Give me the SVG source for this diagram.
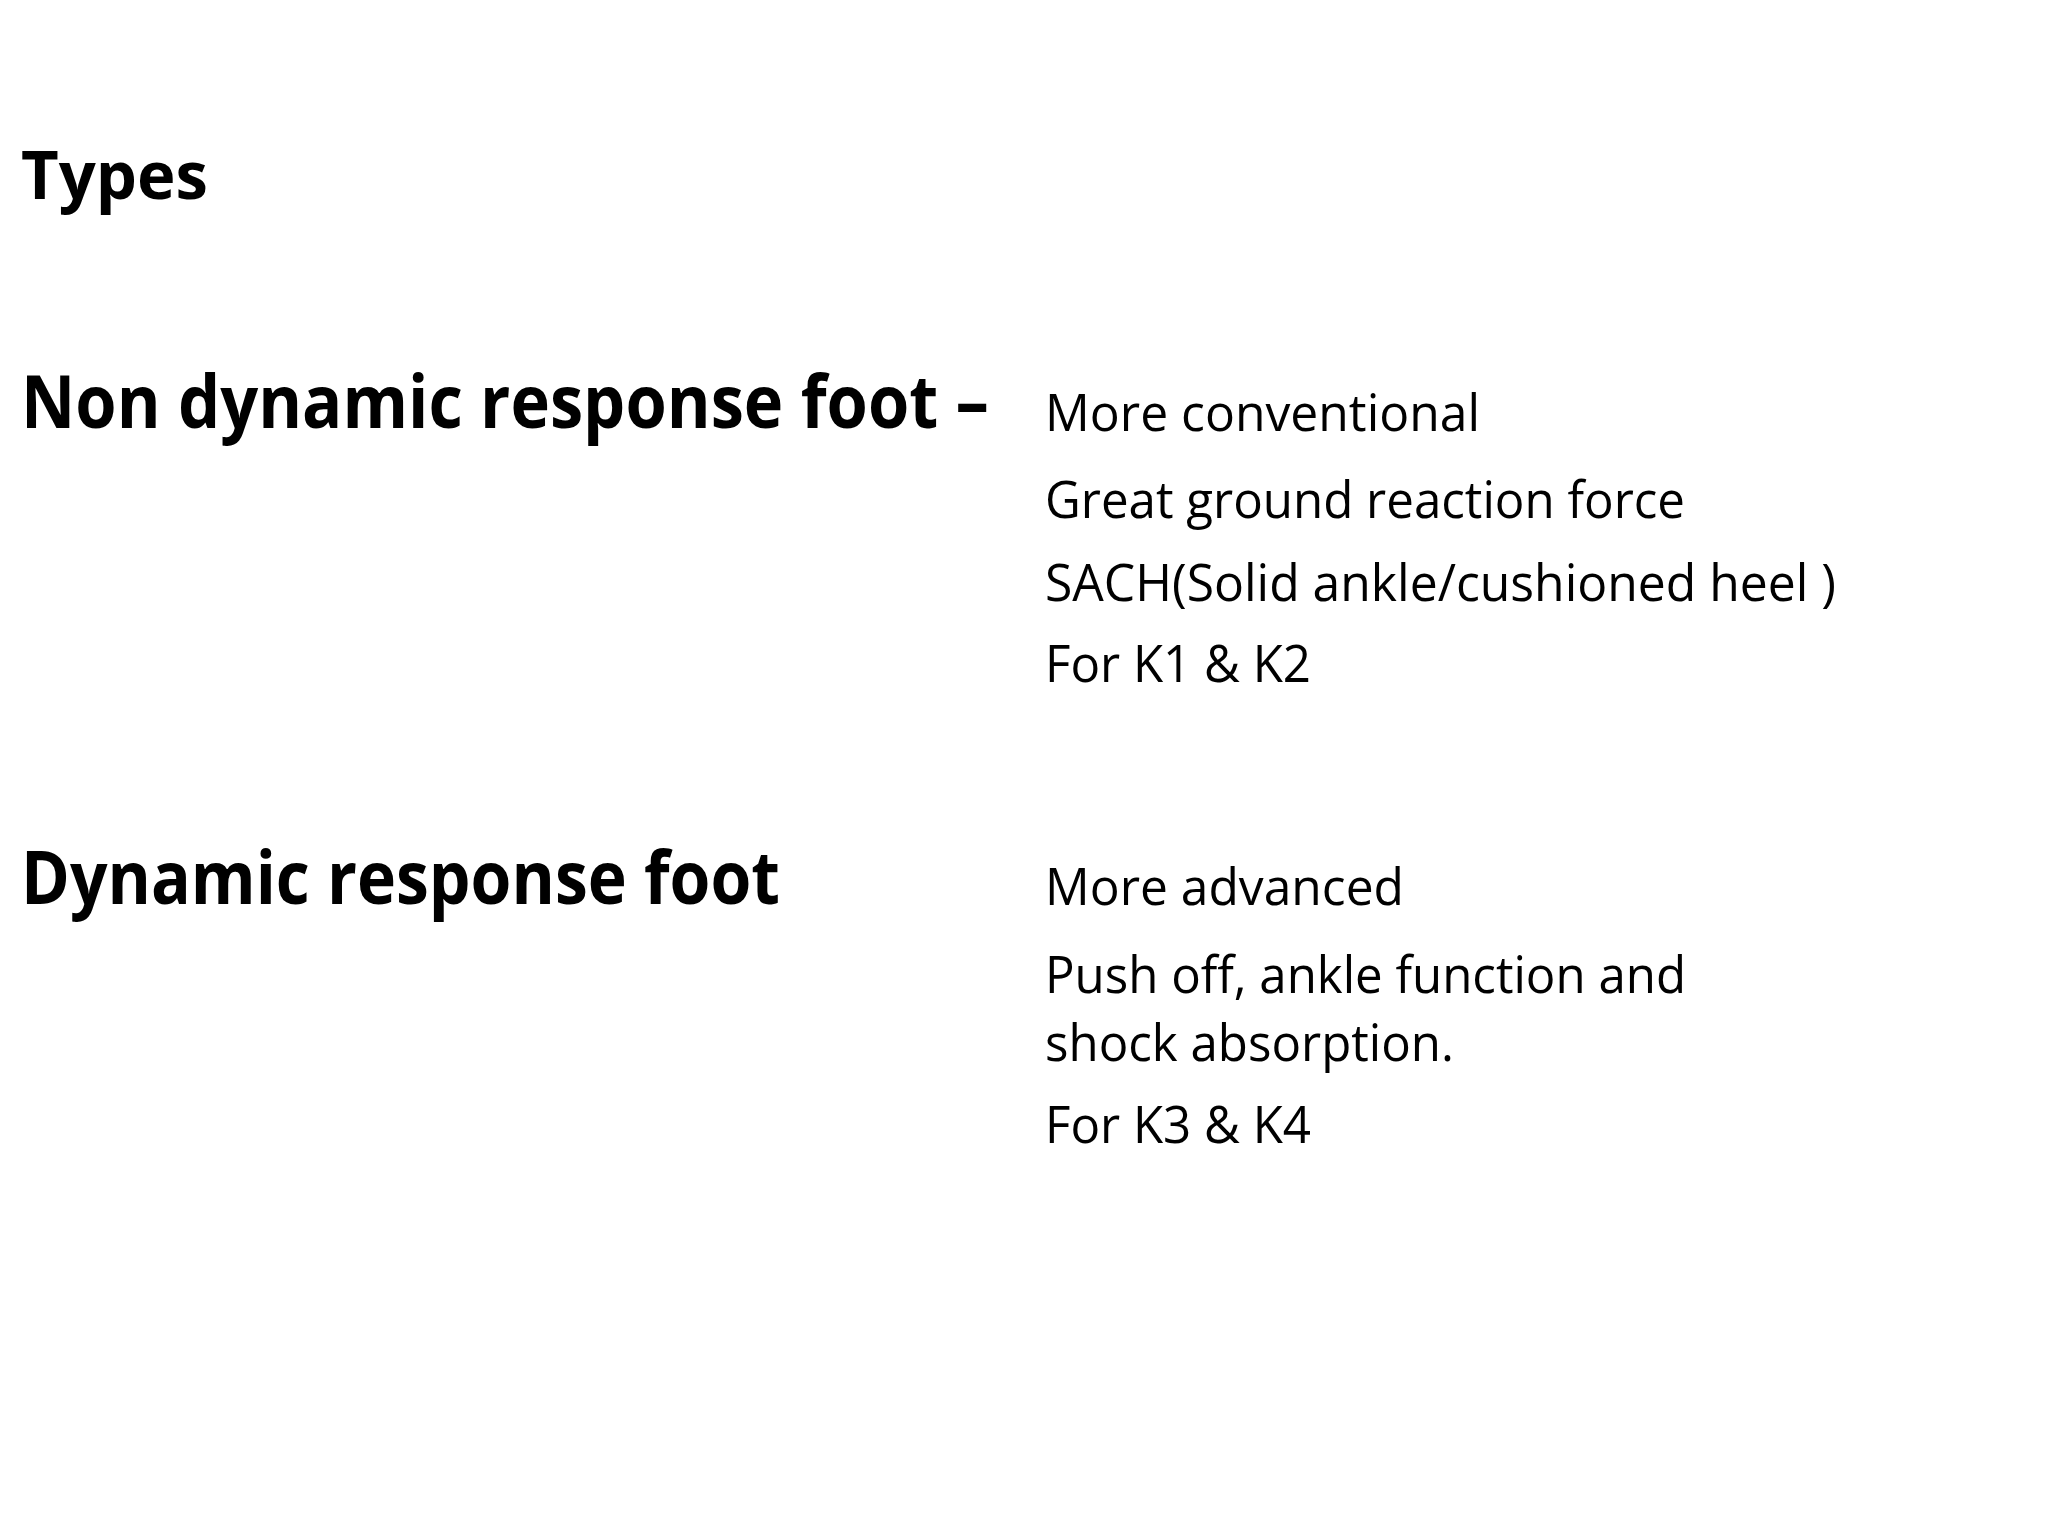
<svg xmlns="http://www.w3.org/2000/svg" width="2048" height="1536" viewBox="0 0 2048 1536">
<style>
.h{font-family:"Open Sans","Liberation Sans",sans-serif;font-weight:bold;fill:#000}
.t{font-family:"Open Sans","Liberation Sans",sans-serif;font-size:52px;fill:#000}
</style>
<rect width="2048" height="1536" fill="#fff"/>
<g id="title"><text class="h" x="21" y="199" font-size="66" textLength="187" lengthAdjust="spacingAndGlyphs">Types</text></g>
<g id="nondynamic">
<text class="h" x="21" y="428" font-size="74" textLength="968" lengthAdjust="spacingAndGlyphs">Non dynamic response foot –</text>
<text class="t" x="1045" y="431" textLength="435" lengthAdjust="spacingAndGlyphs">More conventional</text>
<text class="t" x="1045" y="518" textLength="640" lengthAdjust="spacingAndGlyphs">Great ground reaction force</text>
<text class="t" x="1045" y="601" textLength="791" lengthAdjust="spacingAndGlyphs">SACH(Solid ankle/cushioned heel )</text>
<text class="t" x="1045" y="682" textLength="266" lengthAdjust="spacingAndGlyphs">For K1 &amp; K2</text>
</g>
<g id="dynamic">
<text class="h" x="21" y="904" font-size="74" textLength="759" lengthAdjust="spacingAndGlyphs">Dynamic response foot</text>
<text class="t" x="1045" y="905" textLength="359" lengthAdjust="spacingAndGlyphs">More advanced</text>
<text class="t" x="1045" y="993" textLength="641" lengthAdjust="spacingAndGlyphs">Push off, ankle function and</text>
<text class="t" x="1045" y="1061" textLength="409" lengthAdjust="spacingAndGlyphs">shock absorption.</text>
<text class="t" x="1045" y="1143" textLength="266" lengthAdjust="spacingAndGlyphs">For K3 &amp; K4</text>
</g>
<g id="connectors"/>
</svg>
